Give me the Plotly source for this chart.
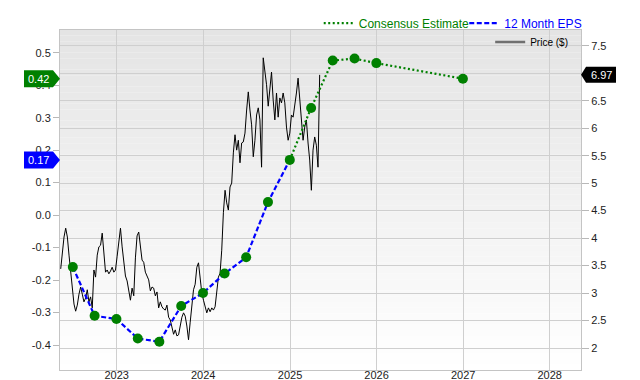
import plotly.graph_objects as go
import pandas as pd

# ---------------- data ----------------
eps_dates = ["2022-06-30", "2022-09-30", "2022-12-31", "2023-03-31", "2023-06-30",
             "2023-09-30", "2023-12-31", "2024-03-31", "2024-06-30", "2024-09-30",
             "2024-12-31"]
eps_values = [-0.16, -0.31, -0.32, -0.38, -0.39, -0.28, -0.24, -0.18, -0.13, 0.04, 0.17]

est_dates = ["2024-12-31", "2025-03-31", "2025-06-30", "2025-09-30", "2025-12-31", "2026-12-31"]
est_values = [0.17, 0.33, 0.476, 0.482, 0.468, 0.42]

price_start = "2022-05-10"   # weekly closes
price_values = [
    3.44, 3.78, 4.02, 4.18, 4.02, 3.69, 3.35, 3.00, 2.80, 2.67,
    2.78, 2.98, 3.11, 2.98, 2.84, 2.91, 3.06, 2.84, 2.93, 2.73,
    3.42, 3.29, 3.69, 3.84, 3.87, 4.09, 3.76, 3.38, 3.42, 3.35,
    3.40, 3.47, 3.38, 3.42, 3.67, 3.97, 4.18, 3.84, 3.53, 3.31,
    3.22, 3.06, 2.87, 3.09, 2.95, 3.64, 4.04, 4.11, 3.87, 3.60,
    3.56, 3.38, 3.31, 3.24, 3.04, 3.11, 3.09, 2.95, 3.02, 2.73,
    2.84, 2.75, 2.71, 2.69, 2.78, 2.56, 2.51, 2.40, 2.25, 2.33,
    2.22, 2.24, 2.40, 2.56, 2.64, 2.58, 2.40, 2.15, 2.47, 2.80,
    3.06, 3.16, 3.47, 3.55, 3.29, 3.00, 2.87, 2.75, 2.64, 2.73,
    2.66, 2.73, 2.69, 2.75, 3.06, 3.29, 3.36, 3.78, 4.46, 4.87,
    4.64, 4.51, 4.93, 5.00, 5.55, 5.88, 5.60, 5.78, 5.37, 5.73,
    5.75, 5.91, 6.33, 6.66, 6.33, 6.06, 5.48, 5.78, 6.24, 6.37,
    6.15, 5.29, 7.28, 7.06, 6.79, 6.40, 6.69, 7.02, 6.51, 6.15,
    6.64, 6.20, 6.55, 6.46, 6.64, 6.46, 6.02, 5.78, 5.91, 6.24,
    6.20, 6.38, 6.64, 6.91, 6.57, 6.15, 5.78, 6.02, 6.15, 5.73,
    5.42, 4.87, 5.60, 5.84, 5.69, 5.29, 6.97,
]

year_ticks = [2023, 2024, 2025, 2026, 2027, 2028]
eps_ticks = [0.5, 0.4, 0.3, 0.2, 0.1, 0.0, -0.1, -0.2, -0.3, -0.4]
price_ticks = [2, 2.5, 3, 3.5, 4, 4.5, 5, 5.5, 6, 6.5, 7, 7.5]

# ---------------- styling constants ----------------
X_RANGE = ["2022-05-07", "2028-05-12"]
PRICE_RANGE = [1.60, 7.786]
EPS_RANGE = [-0.477, 0.570]
GREEN = "#008000"
BLUE = "#0000ff"
GRID = "#cfcfcf"
FONT = "Liberation Sans, Arial, Helvetica, sans-serif"

price_dates = pd.date_range(price_start, periods=len(price_values), freq="7D")

fig = go.Figure()

fig.add_trace(go.Scatter(
    x=price_dates, y=price_values, mode="lines",
    line=dict(color="black", width=1), showlegend=False, yaxis="y",
    hoverinfo="skip"))

# legend entry for price
fig.add_trace(go.Scatter(
    x=[None], y=[None], mode="lines", line=dict(color="#707070", width=2.5),
    name="Price ($)", legend="legend2", yaxis="y"))

fig.add_trace(go.Scatter(
    x=est_dates, y=est_values, mode="lines",
    line=dict(color=GREEN, width=2.2, dash="2px,2.5px"),
    name='<span style="color:#008000">Consensus Estimate</span>', yaxis="y2",
    legend="legend"))

fig.add_trace(go.Scatter(
    x=eps_dates, y=eps_values, mode="lines",
    line=dict(color=BLUE, width=2.2, dash="5px,2.5px"),
    name='<span style="color:#0000ff">12 Month EPS</span>', yaxis="y2",
    legend="legend3"))

fig.add_trace(go.Scatter(
    x=eps_dates + est_dates[1:], y=eps_values + est_values[1:], mode="markers",
    marker=dict(color=GREEN, size=10), showlegend=False, yaxis="y2"))

# ---------------- background gradient ----------------
shapes = []
N = 60
for i in range(N):
    t = (i + 0.5) / N
    g = int(round(255 - t * (255 - 228)))
    shapes.append(dict(type="rect", xref="paper", yref="paper", x0=0, x1=1,
                       y0=i / N, y1=(i + 1) / N, fillcolor=f"rgb({g},{g},{g})",
                       line=dict(width=0), layer="below"))


def to_paper(v, rng):
    return (v - rng[0]) / (rng[1] - rng[0])


annotations = []
left_tag = "M-36,-8.5 L-7,-8.5 L0,0 L-7,8.5 L-36,8.5 Z"
right_tag = "M0,0 L5,-8 L35,-8 L35,8 L5,8 Z"
for val, col in [(est_values[-1], GREEN), (eps_values[-1], BLUE)]:
    yp = to_paper(val, EPS_RANGE)
    shapes.append(dict(type="path", path=left_tag, xref="paper", yref="paper",
                       xsizemode="pixel", ysizemode="pixel", xanchor=0,
                       yanchor=yp, fillcolor=col,
                       line=dict(width=0), layer="above"))
    annotations.append(dict(x=0, xref="paper", y=yp, yref="paper", xshift=-22,
                            xanchor="center", yanchor="middle",
                            text=f"{val:.2f}", showarrow=False,
                            font=dict(color="white", size=11, family=FONT)))
last_price = price_values[-1]
yp = to_paper(last_price, PRICE_RANGE)
shapes.append(dict(type="path", path=right_tag, xref="paper", yref="paper",
                   xsizemode="pixel", ysizemode="pixel", xanchor=1,
                   yanchor=yp, fillcolor="black",
                   line=dict(width=0), layer="above"))
annotations.append(dict(x=1, xref="paper", y=yp, yref="paper", xshift=20,
                        xanchor="center", yanchor="middle",
                        text=f"{last_price:.2f}", showarrow=False,
                        font=dict(color="white", size=11, family=FONT)))

legend_common = dict(orientation="h", y=1.02, yanchor="middle",
                     bgcolor="rgba(0,0,0,0)", font=dict(size=12, family=FONT),
                     itemwidth=30)

fig.update_layout(
    width=640, height=380,
    margin=dict(l=60, r=59, t=30, b=10, autoexpand=False),
    paper_bgcolor="white", plot_bgcolor="white",
    font=dict(family=FONT, size=11, color="#222"),
    shapes=shapes, annotations=annotations,
    xaxis=dict(type="date", range=X_RANGE,
               tickvals=[f"{y}-01-01" for y in year_ticks],
               ticktext=[str(y) for y in year_ticks],
               showgrid=True, gridcolor=GRID, gridwidth=1,
               showline=True, linecolor="#c4c4c4", mirror=True,
               ticks="", zeroline=False, ticklabelstandoff=-5),
    yaxis=dict(side="right", range=PRICE_RANGE, tickvals=price_ticks,
               ticktext=[f"{v:g}" for v in price_ticks],
               ticks="outside", ticklen=7, tickcolor="#b8b8b8",
               showgrid=True, gridcolor=GRID, gridwidth=1,
               showline=True, linecolor="#c4c4c4", zeroline=False),
    yaxis2=dict(overlaying="y", side="left", range=EPS_RANGE, tickvals=eps_ticks,
                ticktext=[f"{v:.1f}" for v in eps_ticks],
                ticks="outside", ticklen=6, tickcolor="#b8b8b8",
                showgrid=False, zeroline=False, showline=True, linecolor="#c4c4c4"),
    legend=dict(x=0.796, xanchor="right", **legend_common),
    legend3=dict(x=1.012, xanchor="right", **legend_common),
    legend2=dict(x=0.985, xanchor="right", y=0.965, yanchor="middle",
                 bgcolor="rgba(0,0,0,0)", font=dict(size=10, color="black", family=FONT)),
    showlegend=True,
)

fig.write_html("out.html")
